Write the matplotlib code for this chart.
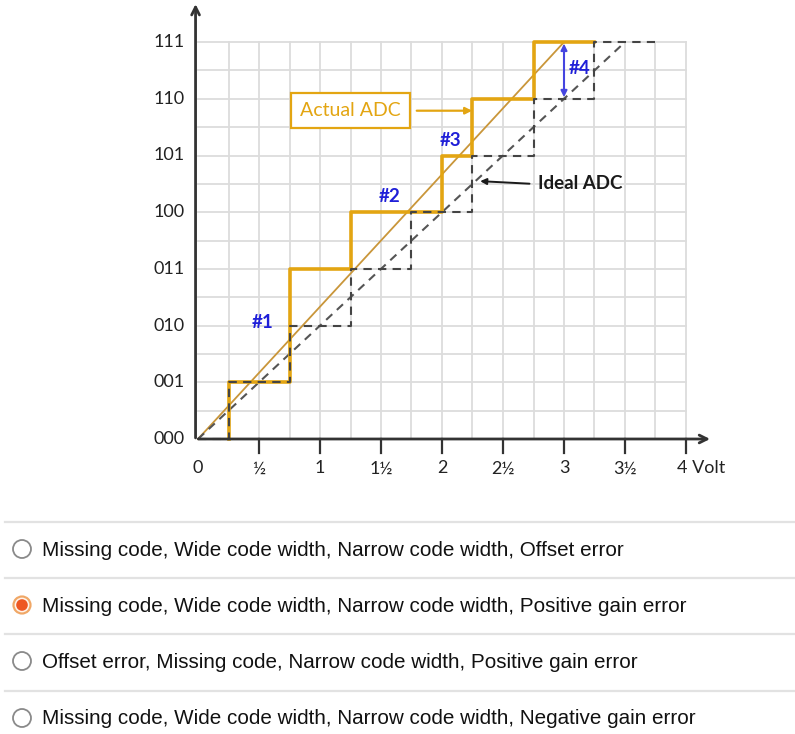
import matplotlib
matplotlib.use("Agg")
import matplotlib.pyplot as plt
from matplotlib.patches import Circle

# ideal ADC staircase (transition voltages and output codes)
ideal_v = [0, 0.25, 0.75, 1.25, 1.75, 2.25, 2.75, 3.25, 3.75]
ideal_code = [0, 1, 2, 3, 4, 5, 6, 7, 7]
# actual ADC staircase
actual_v = [0.25, 0.25, 0.75, 1.25, 2.0, 2.25, 2.75, 3.25]
actual_code = [0, 1, 3, 4, 5, 6, 7, 7]
# straight transfer lines
ideal_line_v = [0, 3.5]
actual_line_v = [0, 3.0]
line_code = [0, 7]

x_ticks = [0, 0.5, 1, 1.5, 2, 2.5, 3, 3.5, 4]
x_labels = ["0", "½", "1", "1½", "2", "2½", "3", "3½", "4 Volt"]
y_ticks = [0, 1, 2, 3, 4, 5, 6, 7]
y_labels = ["000", "001", "010", "011", "100", "101", "110", "111"]

options = [
    "Missing code, Wide code width, Narrow code width, Offset error",
    "Missing code, Wide code width, Narrow code width, Positive gain error",
    "Offset error, Missing code, Narrow code width, Positive gain error",
    "Missing code, Wide code width, Narrow code width, Negative gain error",
]
selected = 1

W, H = 795, 734
fig = plt.figure(figsize=(W / 100, H / 100), dpi=100)

# bottom part: answer list drawn in pixel coordinates
ax2 = fig.add_axes([0, 0, 1, 1])
ax2.set_xlim(0, W)
ax2.set_ylim(H, 0)
ax2.axis("off")
sep_y = [522, 578, 634, 691]
for i, txt in enumerate(options):
    ax2.plot([5, W], [sep_y[i], sep_y[i]], color="#e2e2e2", lw=1.6)
    cy = sep_y[i] + 27
    if i == selected:
        ax2.add_patch(Circle((22, cy), 9.6, fc="#f0a766", ec="none"))
        ax2.add_patch(Circle((22, cy), 7.4, fc="#fff4ea", ec="none"))
        ax2.add_patch(Circle((22, cy), 5.8, fc="#ee5722", ec="none"))
    else:
        ax2.add_patch(Circle((22, cy), 9.0, fc="white", ec="#8a8a8a", lw=1.3))
    ax2.text(42, cy + 1, txt, fontsize=14.85, family="Liberation Sans",
             va="center", ha="left", color="#111111")

# chart axes: data x=0 -> px 198, 122 px/V ; code 0 -> px 439, 56.7 px/code
x0, sx = 198, 122.0
y0, sy = 439, 56.7
xlim = (-0.45, 4.45)
ylim = (-0.9, 7.74)
left = x0 + xlim[0] * sx
right = x0 + xlim[1] * sx
bottom = y0 - ylim[0] * sy
top = y0 - ylim[1] * sy
ax = fig.add_axes([left / W, (H - bottom) / H, (right - left) / W, (bottom - top) / H])
ax.set_xlim(*xlim)
ax.set_ylim(*ylim)
ax.axis("off")
ax.patch.set_alpha(0)

chart_font = "Lato"
gold = "#e3a512"

# grid
for k in range(1, 17):
    ax.plot([k * 0.25, k * 0.25], [0, 7], color="#dcdcdc", lw=1.3, zorder=1)
for k in range(1, 15):
    ax.plot([0, 4], [k * 0.5, k * 0.5], color="#dcdcdc", lw=1.3, zorder=1)

# axes with arrows
ax.annotate("", xy=(4.22, 0), xytext=(-0.02, 0),
            arrowprops=dict(arrowstyle="->", color="#333333", lw=2, mutation_scale=14), zorder=5)
ax.annotate("", xy=(-0.02, 7.72), xytext=(-0.02, -0.03),
            arrowprops=dict(arrowstyle="->", color="#333333", lw=2, mutation_scale=14), zorder=5)

for v, lab in zip(x_ticks, x_labels):
    if v > 0:
        ax.plot([v, v], [0, -0.24], color="#333333", lw=1.6, zorder=5)
    if lab == "4 Volt":
        ax.text(v - 0.07, -0.52, lab, fontsize=13, family=chart_font, ha="left", va="center", color="#222222")
    else:
        ax.text(v, -0.52, lab, fontsize=13, family=chart_font, ha="center", va="center", color="#222222")
for c, lab in zip(y_ticks, y_labels):
    ax.text(-0.11, c, lab, fontsize=13, family=chart_font, ha="right", va="center", color="#222222")

# transfer lines
ax.plot(actual_line_v, line_code, color="#c9963a", lw=1.3, zorder=3)
ax.plot(ideal_line_v, line_code, color="#555555", lw=1.5, ls=(0, (4, 3)), zorder=3)

# staircases
ax.step(actual_v, actual_code, where="post", color=gold, lw=2.6, zorder=4)
ax.step(ideal_v, ideal_code, where="post", color="#444444", lw=1.5, ls=(0, (4, 3)), zorder=4.5)

# labels
blue = "#1f1fd8"
for lab, (lx, ly) in zip(["#1", "#2", "#3", "#4"],
                         [(0.53, 2.06), (1.57, 4.27), (2.07, 5.27), (3.13, 6.54)]):
    ax.text(lx, ly, lab, fontsize=13.5, family=chart_font, fontweight="bold",
            color=blue, ha="center", va="center", zorder=6)
ax.annotate("", xy=(3.0, 7.02), xytext=(3.0, 5.98),
            arrowprops=dict(arrowstyle="<|-|>", color="#4545e0", lw=1.5, mutation_scale=9), zorder=6)

ax.text(1.25, 5.79, "Actual ADC", fontsize=14, family=chart_font, color=gold,
        ha="center", va="center", zorder=6,
        bbox=dict(boxstyle="square,pad=0.45", fc="white", ec=gold, lw=1.6))
ax.annotate("", xy=(2.27, 5.79), xytext=(1.77, 5.79),
            arrowprops=dict(arrowstyle="-|>", color=gold, lw=1.6, mutation_scale=10), zorder=6)

ax.text(2.79, 4.5, "Ideal ADC", fontsize=13.5, family=chart_font, fontweight="bold",
        color="#1a1a1a", ha="left", va="center", zorder=6)
ax.annotate("", xy=(2.29, 4.55), xytext=(2.74, 4.5),
            arrowprops=dict(arrowstyle="-|>", color="#1a1a1a", lw=1.4, mutation_scale=9), zorder=6)

fig.savefig("out.png", dpi=100, facecolor="white")
